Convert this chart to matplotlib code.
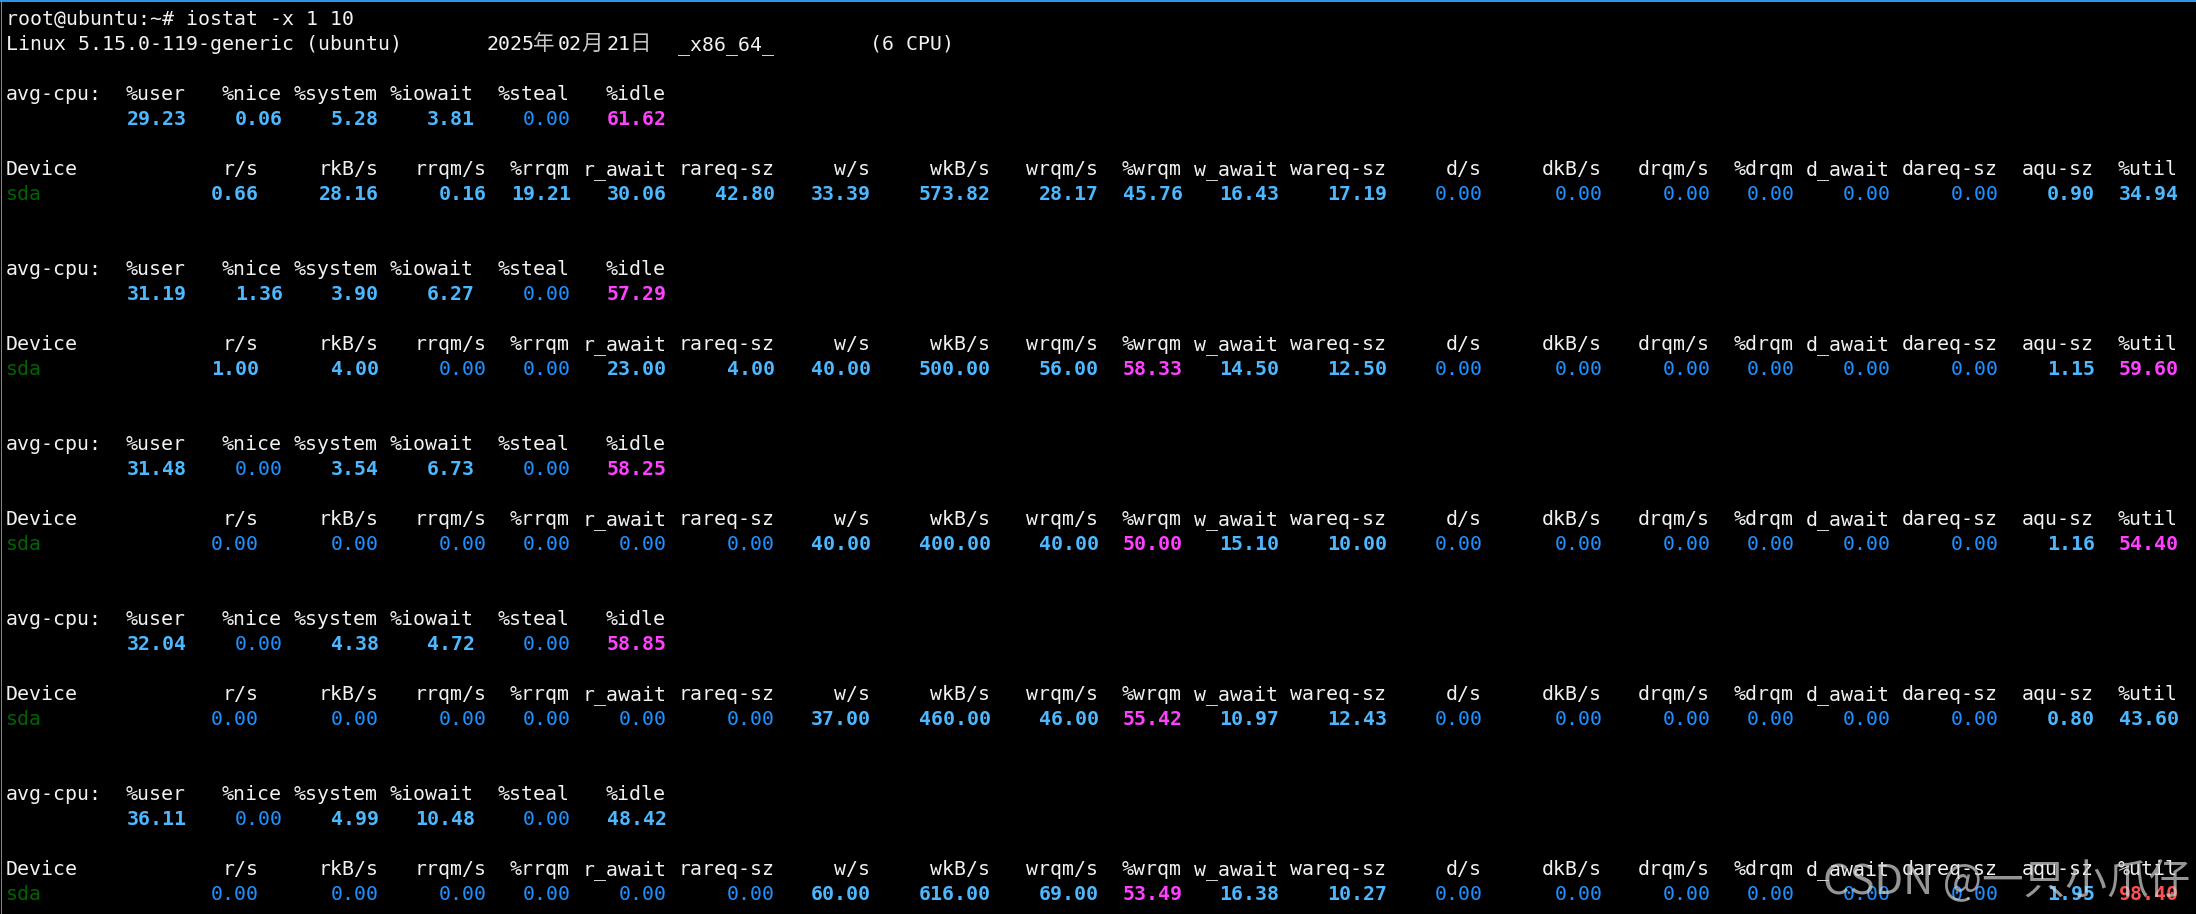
import matplotlib
matplotlib.use("Agg")
import matplotlib.pyplot as plt

W, H = 2196, 914
CHAR_W = 12.0
ROW_H = 25.0
LEFT = 6.0
MONO = ['DejaVu Sans Mono']
CJK = ['Noto Sans CJK SC', 'DejaVu Sans']

FG = '#f2f2f2'
BLUE = '#4db8ff'
ZERO = '#1e90ff'
PINK = '#ff40ff'
RED = '#ff5050'
GREEN = '#006400'

cpu_labels = ['%user', '%nice', '%system', '%iowait', '%steal', '%idle']
dev_labels = ['r/s', 'rkB/s', 'rrqm/s', '%rrqm', 'r_await', 'rareq-sz',
              'w/s', 'wkB/s', 'wrqm/s', '%wrqm', 'w_await', 'wareq-sz',
              'd/s', 'dkB/s', 'drqm/s', '%drqm', 'd_await', 'dareq-sz',
              'aqu-sz', '%util']

cpu_1 = [29.23, 0.06, 5.28, 3.81, 0.00, 61.62]
cpu_2 = [31.19, 1.36, 3.90, 6.27, 0.00, 57.29]
cpu_3 = [31.48, 0.00, 3.54, 6.73, 0.00, 58.25]
cpu_4 = [32.04, 0.00, 4.38, 4.72, 0.00, 58.85]
cpu_5 = [36.11, 0.00, 4.99, 10.48, 0.00, 48.42]

sda_1 = [0.66, 28.16, 0.16, 19.21, 30.06, 42.80, 33.39, 573.82, 28.17, 45.76,
         16.43, 17.19, 0.00, 0.00, 0.00, 0.00, 0.00, 0.00, 0.90, 34.94]
sda_2 = [1.00, 4.00, 0.00, 0.00, 23.00, 4.00, 40.00, 500.00, 56.00, 58.33,
         14.50, 12.50, 0.00, 0.00, 0.00, 0.00, 0.00, 0.00, 1.15, 59.60]
sda_3 = [0.00, 0.00, 0.00, 0.00, 0.00, 0.00, 40.00, 400.00, 40.00, 50.00,
         15.10, 10.00, 0.00, 0.00, 0.00, 0.00, 0.00, 0.00, 1.16, 54.40]
sda_4 = [0.00, 0.00, 0.00, 0.00, 0.00, 0.00, 37.00, 460.00, 46.00, 55.42,
         10.97, 12.43, 0.00, 0.00, 0.00, 0.00, 0.00, 0.00, 0.80, 43.60]
sda_5 = [0.00, 0.00, 0.00, 0.00, 0.00, 0.00, 60.00, 616.00, 69.00, 53.49,
         16.38, 10.27, 0.00, 0.00, 0.00, 0.00, 0.00, 0.00, 1.95, 98.40]

cpu_rows = [cpu_1, cpu_2, cpu_3, cpu_4, cpu_5]
sda_rows = [sda_1, sda_2, sda_3, sda_4, sda_5]

# right edge of each column, in terminal characters
cpu_cols = [15, 23, 31, 39, 47, 55]
dev_cols = [21, 31, 40, 47, 55, 64, 72, 82, 91, 98, 106, 115, 123, 133, 142,
            149, 157, 166, 174, 181]
pct_labels = ['%rrqm', '%wrqm', '%drqm', '%util', '%idle']


def baseline(row):
    return 25.0 + ROW_H * row


def value_color(label, value):
    if value == 0:
        return ZERO
    if label in pct_labels and value >= 90:
        return RED
    if label in pct_labels and value >= 50:
        return PINK
    return BLUE


def put(ax, col, row, text, color=FG, ha='left', weight='normal'):
    x = LEFT + CHAR_W * col
    ax.text(x, baseline(row), text, color=color, ha=ha, va='baseline',
            family=MONO, fontsize=14.35, fontweight=weight)


def put_value(ax, col, row, label, value):
    # zeros are printed thin, everything else bold
    weight = 'normal' if value == 0 else 'bold'
    put(ax, col + 0.08, row, f'{value:.2f}', value_color(label, value), 'right', weight)


fig = plt.figure(figsize=(W / 100, H / 100), dpi=100, facecolor='black')
ax = fig.add_axes([0, 0, 1, 1])
ax.set_xlim(0, W)
ax.set_ylim(H, 0)
ax.axis('off')

# window border of the screenshot
ax.axhline(1, color='#2f93e6', lw=1.5)
ax.axvline(0.5, color='#8a8a8a', lw=0.7)

put(ax, 0, 0, 'root@ubuntu:~# iostat -x 1 10')
put(ax, 0, 1, 'Linux 5.15.0-119-generic (ubuntu)')
for col, part in [(40, '2025'), (46, '02'), (50, '21'), (56, '_x86_64_'), (72, '(6 CPU)')]:
    put(ax, col, 1, part)
for col, part in [(44, '年'), (48, '月'), (52, '日')]:
    ax.text(LEFT + CHAR_W * col - 1, baseline(1), part, color='#c4c4c4', va='baseline',
            family=CJK, fontsize=15.5)

for i in range(5):
    top = 3 + 7 * i
    put(ax, 0, top, 'avg-cpu:')
    for col, label, value in zip(cpu_cols, cpu_labels, cpu_rows[i]):
        put(ax, col, top, label, ha='right')
        put_value(ax, col, top + 1, label, value)
    put(ax, 0, top + 3, 'Device')
    put(ax, 0, top + 4, 'sda', GREEN)
    for col, label, value in zip(dev_cols, dev_labels, sda_rows[i]):
        put(ax, col, top + 3, label, ha='right')
        put_value(ax, col, top + 4, label, value)

ax.text(2190, 894, 'CSDN @一只小爪仔', color='#d0d0d0', alpha=0.72, ha='right',
        va='baseline', family=CJK, fontsize=30)

fig.savefig('out.png', dpi=100, facecolor='black')
